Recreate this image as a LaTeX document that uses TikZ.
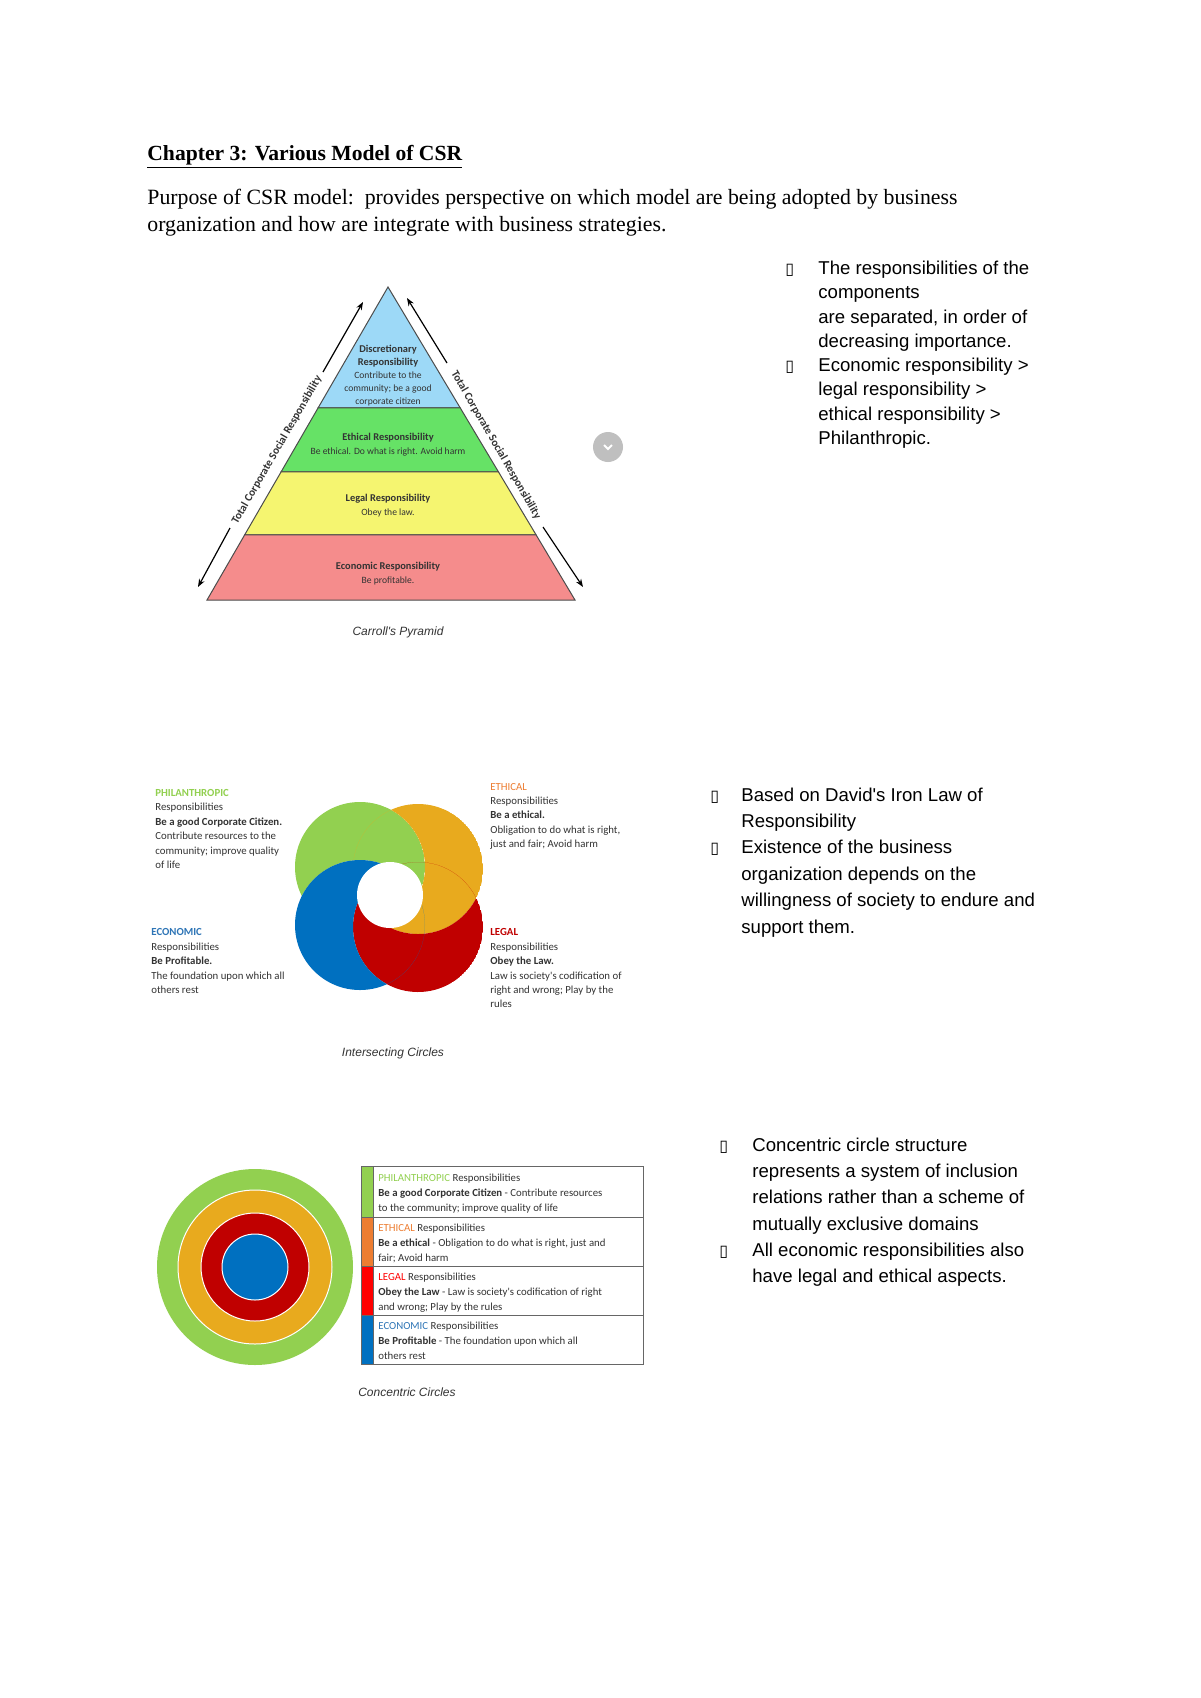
\documentclass[tikz,border=0pt]{standalone}
\usepackage{fontspec}
\setmainfont{Liberation Serif}
\newfontfamily\calf{Carlito}
\newfontfamily\arialf{Liberation Sans}
\newfontfamily\dejaf{DejaVu Sans}
\usetikzlibrary{arrows.meta}
\definecolor{pblue}{RGB}{157,217,247}
\definecolor{pgreen}{RGB}{102,226,102}
\definecolor{pyellow}{RGB}{245,245,112}
\definecolor{pred}{RGB}{245,140,140}
\definecolor{cgreen}{RGB}{146,208,80}
\definecolor{corange}{RGB}{232,170,30}
\definecolor{cred}{RGB}{192,0,0}
\definecolor{cblue}{RGB}{0,112,192}
\definecolor{torange}{RGB}{237,125,49}
\definecolor{tred}{RGB}{255,0,0}
\definecolor{tblue}{RGB}{46,117,182}
\newcommand\crescent[3]{\begin{scope}\clip #1 circle (65);\fill[#3,even odd rule] #1 circle (65) #2 circle (65);\end{scope}}
\begin{document}
\begin{tikzpicture}[x=0.5pt,y=-0.5pt,
  txt/.style={anchor=base west,inner sep=0pt,font=\arialf\fontsize{9.3}{11}\selectfont},
  bul/.style={anchor=base west,inner sep=0pt,font=\dejaf\fontsize{8}{10}\selectfont},
  pyt/.style={anchor=base,inner sep=0pt,font=\calf\fontsize{4.8}{6}\selectfont,text=black!80},
  pyb/.style={anchor=base,inner sep=0pt,font=\calf\bfseries\fontsize{5.2}{6}\selectfont,text=black!80},
  small/.style={anchor=base west,inner sep=0pt,font=\calf\fontsize{5.4}{7}\selectfont,text=black!80},
  capt/.style={anchor=base,inner sep=0pt,font=\arialf\itshape\fontsize{6}{7}\selectfont,text=black!80},
  arr/.style={line width=0.6pt,-{Stealth[length=4pt,width=3pt]}},
  band/.style={draw=black!70,line width=0.5pt},
  ring/.style={draw=white,line width=0.5pt},
  row/.style={draw=black!60,line width=0.4pt}]
\useasboundingbox (0,0) rectangle (1200,1698);
\fill[white] (0,0) rectangle (1200,1698);
% header
\node[anchor=base west,inner sep=0pt,font=\bfseries\fontsize{10.8}{12}\selectfont] (title) at (147,160) {\underline{Chapter 3: Various Model of CSR}};
\node[anchor=base west,inner sep=0pt,font=\fontsize{10.9}{12}\selectfont] (p1) at (147,204) {Purpose of CSR model:\ \ provides perspective on which model are being adopted by business};
\node[anchor=base west,inner sep=0pt,font=\fontsize{10.9}{12}\selectfont] (p2) at (147,231) {organization and how are integrate with business strategies.};
% pyramid
\coordinate (apex) at (388,287);
\coordinate (bl) at (207,600);
\coordinate (br) at (575,600);
\path (apex) -- (bl) coordinate[pos=0.386] (l1) coordinate[pos=0.591] (l2) coordinate[pos=0.792] (l3);
\path (apex) -- (br) coordinate[pos=0.386] (r1) coordinate[pos=0.591] (r2) coordinate[pos=0.792] (r3);
\filldraw[band,fill=pblue] (apex) -- (l1) -- (r1) -- cycle;
\filldraw[band,fill=pgreen] (l1) -- (l2) -- (r2) -- (r1) -- cycle;
\filldraw[band,fill=pyellow] (l2) -- (l3) -- (r3) -- (r2) -- cycle;
\filldraw[band,fill=pred] (l3) -- (bl) -- (br) -- (r3) -- cycle;
\node[pyb] (d1) at (388,352) {Discretionary};
\node[pyb] (d2) at (388,365) {Responsibility};
\node[pyt] (d3) at (388,378) {Contribute to the};
\node[pyt] (d4) at (388,391) {community; be a good};
\node[pyt] (d5) at (388,404) {corporate citizen};
\node[pyb] (e1) at (388,440) {Ethical Responsibility};
\node[pyt] (e2) at (388,454) {Be ethical. Do what is right. Avoid harm};
\node[pyb] (g1) at (388,501) {Legal Responsibility};
\node[pyt] (g2) at (388,515) {Obey the law.};
\node[pyb] (c1) at (388,569) {Economic Responsibility};
\node[pyt] (c2) at (388,583) {Be profitable.};
\coordinate (la) at (198,587); \coordinate (lb) at (230,528);
\coordinate (lc) at (323,372); \coordinate (ld) at (363,302);
\coordinate (ra) at (407,298); \coordinate (rb) at (447,363);
\coordinate (rc) at (543,527); \coordinate (rd) at (583,587);
\draw[arr] (lb) -- (la);
\draw[arr] (lc) -- (ld);
\draw[arr] (rb) -- (ra);
\draw[arr] (rc) -- (rd);
\node[inner sep=0pt,rotate=60,font=\calf\bfseries\fontsize{5.6}{6}\selectfont,text=black!80] (lt) at (277,450) {Total Corporate Social Responsibility};
\node[inner sep=0pt,rotate=-60,font=\calf\bfseries\fontsize{5.6}{6}\selectfont,text=black!80] (rt) at (496,445) {Total Corporate Social Responsibility};
\node[capt] (cp) at (398,635) {Carroll's Pyramid};
\node[circle,fill=black!25,minimum size=15pt,inner sep=0pt] (chev) at (608,447) {};
\draw[white,line width=1pt] ([shift={(-4,-2)}]chev.center) -- ([shift={(0,2)}]chev.center) -- ([shift={(4,-2)}]chev.center);
% right texts block 1
\node[bul] (b11) at (785,274) {▯};
\node[txt] (t11) at (818,274) {The responsibilities of the};
\node[txt] (t12) at (818,298) {components};
\node[txt] (t13) at (818,323) {are separated, in order of};
\node[txt] (t14) at (818,347) {decreasing importance.};
\node[bul] (b15) at (785,371) {▯};
\node[txt] (t15) at (818,371) {Economic responsibility >};
\node[txt] (t16) at (818,395) {legal responsibility >};
\node[txt] (t17) at (818,420) {ethical responsibility >};
\node[txt] (t18) at (818,444) {Philanthropic.};
% intersecting circles (crescents)
\crescent{(360,867)}{(360,925)}{cgreen}
\crescent{(418,869)}{(360,867)}{corange}
\crescent{(418,927)}{(418,869)}{cred}
\crescent{(360,925)}{(418,927)}{cblue}
\fill[white] (390,895) circle (33);
\node[small,text=cgreen,font=\calf\bfseries\fontsize{5.4}{7}\selectfont] (ph1) at (155,796) {PHILANTHROPIC};
\node[small] (ph2) at (155,810) {Responsibilities};
\node[small,font=\calf\bfseries\fontsize{5.4}{7}\selectfont] (ph3) at (155,825) {Be a good Corporate Citizen.};
\node[small] (ph4) at (155,839) {Contribute resources to the};
\node[small] (ph5) at (155,854) {community; improve quality};
\node[small] (ph6) at (155,868) {of life};
\node[small,text=torange] (et1) at (490,790) {ETHICAL};
\node[small] (et2) at (490,804) {Responsibilities};
\node[small,font=\calf\bfseries\fontsize{5.4}{7}\selectfont] (et3) at (490,818) {Be a ethical.};
\node[small] (et4) at (490,833) {Obligation to do what is right,};
\node[small] (et5) at (490,847) {just and fair; Avoid harm};
\node[small,text=tblue,font=\calf\bfseries\fontsize{5.4}{7}\selectfont] (ec1) at (151,935) {ECONOMIC};
\node[small] (ec2) at (151,950) {Responsibilities};
\node[small,font=\calf\bfseries\fontsize{5.4}{7}\selectfont] (ec3) at (151,964) {Be Profitable.};
\node[small] (ec4) at (151,979) {The foundation upon which all};
\node[small] (ec5) at (151,993) {others rest};
\node[small,text=cred,font=\calf\bfseries\fontsize{5.4}{7}\selectfont] (lg1) at (490,935) {LEGAL};
\node[small] (lg2) at (490,950) {Responsibilities};
\node[small,font=\calf\bfseries\fontsize{5.4}{7}\selectfont] (lg3) at (490,964) {Obey the Law.};
\node[small] (lg4) at (490,979) {Law is society's codification of};
\node[small] (lg5) at (490,993) {right and wrong; Play by the};
\node[small] (lg6) at (490,1007) {rules};
\node[capt] (ic) at (393,1056) {Intersecting Circles};
% block 2
\node[bul] (b21) at (710,801) {▯};
\node[txt] (t21) at (741,801) {Based on David's Iron Law of};
\node[txt] (t22) at (741,827) {Responsibility};
\node[bul] (b23) at (710,853) {▯};
\node[txt] (t23) at (741,853) {Existence of the business};
\node[txt] (t24) at (741,880) {organization depends on the};
\node[txt] (t25) at (741,906) {willingness of society to endure and};
\node[txt] (t26) at (741,933) {support them.};
% concentric
\fill[cgreen] (255,1267) circle (98);
\fill[corange,ring] (255,1267) circle (77);
\fill[cred,ring] (255,1267) circle (54);
\fill[cblue,ring] (255,1267) circle (33);
\fill[cgreen] (361,1166) rectangle (373,1217);
\fill[torange] (361,1217) rectangle (373,1266);
\fill[tred] (361,1266) rectangle (373,1315);
\fill[cblue] (361,1315) rectangle (373,1364);
\draw[row] (361,1166) rectangle (643,1364);
\draw[row] (361,1217) -- (643,1217);
\draw[row] (361,1266) -- (643,1266);
\draw[row] (361,1315) -- (643,1315);
\draw[row] (373,1166) -- (373,1364);
\node[small] (q1) at (378,1181) {\textcolor{cgreen}{PHILANTHROPIC} Responsibilities};
\node[small] (q2) at (378,1196) {\textbf{Be a good Corporate Citizen} - Contribute resources};
\node[small] (q3) at (378,1211) {to the community; improve quality of life};
\node[small] (q4) at (378,1231) {\textcolor{torange}{ETHICAL} Responsibilities};
\node[small] (q5) at (378,1246) {\textbf{Be a ethical} - Obligation to do what is right, just and};
\node[small] (q6) at (378,1261) {fair; Avoid harm};
\node[small] (q7) at (378,1280) {\textcolor{tred}{LEGAL} Responsibilities};
\node[small] (q8) at (378,1295) {\textbf{Obey the Law} - Law is society's codification of right};
\node[small] (q9) at (378,1310) {and wrong; Play by the rules};
\node[small] (q10) at (378,1329) {\textcolor{tblue}{ECONOMIC} Responsibilities};
\node[small] (q11) at (378,1344) {\textbf{Be Profitable} - The foundation upon which all};
\node[small] (q12) at (378,1359) {others rest};
\node[capt] (cc) at (407,1396) {Concentric Circles};
% block 3
\node[bul] (b31) at (719,1151) {▯};
\node[txt] (t31) at (752,1151) {Concentric circle structure};
\node[txt] (t32) at (752,1177) {represents a system of inclusion};
\node[txt] (t33) at (752,1203) {relations rather than a scheme of};
\node[txt] (t34) at (752,1230) {mutually exclusive domains};
\node[bul] (b35) at (719,1256) {▯};
\node[txt] (t35) at (752,1256) {All economic responsibilities also};
\node[txt] (t36) at (752,1282) {have legal and ethical aspects.};
\end{tikzpicture}
\end{document}
